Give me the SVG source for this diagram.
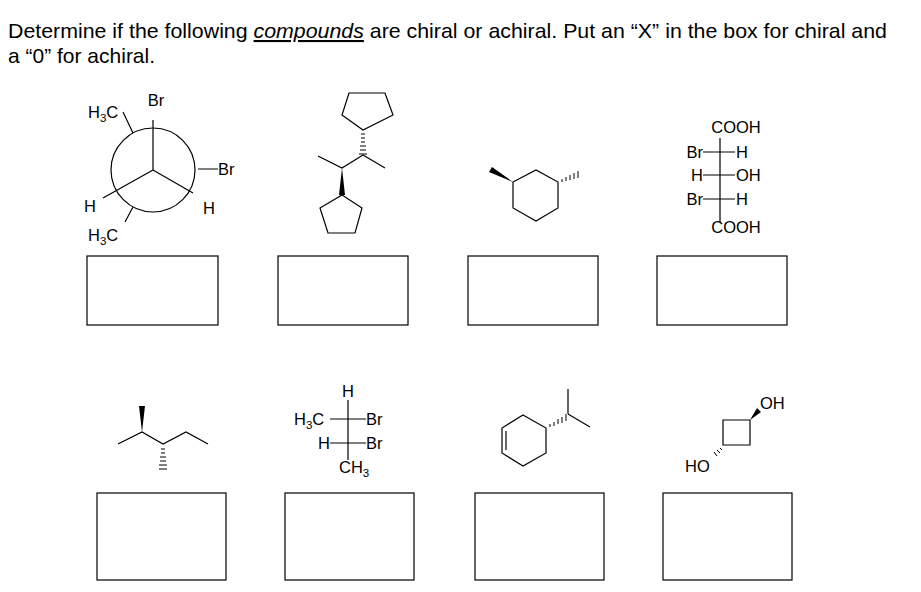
<svg xmlns="http://www.w3.org/2000/svg" width="921" height="592" viewBox="0 0 921 592">
<style>
text{font-family:"Liberation Sans",Arial,sans-serif;fill:#000}
.t{font-size:21px}
.l{font-size:16.5px}
.e{text-anchor:end}
.c{text-anchor:middle}
.s{font-size:11.5px}
.b{fill:none;stroke:#000;stroke-width:1.2}
.box{fill:#fff;stroke:#000;stroke-width:1.2}
.h{stroke:#000;stroke-width:1}
</style>
<rect width="921" height="592" fill="#fff"/>
<text class="t" x="8" y="38" textLength="879" lengthAdjust="spacingAndGlyphs">Determine if the following <tspan font-style="italic" text-decoration="underline">compounds</tspan> are chiral or achiral. Put an “X” in the box for chiral and</text>
<text class="t" x="8" y="63">a “0” for achiral.</text>
<g id="newman">
<circle class="b" cx="153" cy="170" r="42"/>
<path class="b" d="M153,170V120M153,170L103,198M153,170L193,193M123,112L133,133M198,169H218M133,207L125,222"/>
<text class="l c" x="156" y="106">Br</text>
<text class="l" x="88" y="118">H<tspan class="s" dy="4">3</tspan><tspan dy="-4">C</tspan></text>
<text class="l" x="218" y="175">Br</text>
<text class="l" x="84" y="212">H</text>
<text class="l" x="203" y="214">H</text>
<text class="l" x="88" y="241">H<tspan class="s" dy="4">3</tspan><tspan dy="-4">C</tspan></text>
</g>
<g id="dicyclopentyl">
<path class="b" d="M349,93L385,93L393,115L363,130L342,115Z"/>
<path class="b" d="M363,155L385,168M363,155L342,168L318,156"/>
<path class="h" d="M361,134h4M361,138h4M361,142h4M360,146h6M360,150h6M359,154h8"/>
<polygon points="342,168 339,195 345,195"/>
<path class="b" d="M342,195L362,208L355,233L328,233L320,208Z"/>
</g>
<g id="dimethylcyclohexane">
<path class="b" d="M513,182L536,170L558,182L558,208L536,221L513,208Z"/>
<polygon points="513,182 492,167 489,172"/>
<path class="h" d="M562,179v3M566,177v4M570,175v5M574,173v6M578,171v7"/>
</g>
<g id="fischer1">
<path class="b" d="M720,138V222M703,152H735M703,175H735M703,199H735"/>
<text class="l c" x="736" y="133">COOH</text>
<text class="l e" x="703" y="158">Br</text>
<text class="l" x="736" y="158">H</text>
<text class="l e" x="703" y="181">H</text>
<text class="l" x="736" y="181">OH</text>
<text class="l e" x="703" y="205">Br</text>
<text class="l" x="736" y="205">H</text>
<text class="l c" x="736" y="233">COOH</text>
</g>
<g id="boxes">
<rect class="box" x="87" y="256" width="131" height="69"/>
<rect class="box" x="278" y="256" width="130" height="69"/>
<rect class="box" x="468" y="256" width="130" height="69"/>
<rect class="box" x="657" y="256" width="130" height="69"/>
<rect class="box" x="97" y="493" width="129" height="87"/>
<rect class="box" x="285" y="493" width="129" height="87"/>
<rect class="box" x="475" y="493" width="129" height="87"/>
<rect class="box" x="663" y="493" width="129" height="87"/>
</g>
<g id="dimethylpentane">
<path class="b" d="M118,444L142,432L163,444L186,432L208,444"/>
<polygon points="142,432 139,406 145,406"/>
<path class="h" d="M161,449h4M161,453h4M160,457h6M160,461h6M159,465h8M159,469h8"/>
</g>
<g id="fischer2">
<path class="b" d="M348,400V460M330,419H366M330,443H366"/>
<text class="l c" x="348" y="397">H</text>
<text class="l" x="294" y="425">H<tspan class="s" dy="4">3</tspan><tspan dy="-4">C</tspan></text>
<text class="l" x="366" y="425">Br</text>
<text class="l e" x="330" y="449">H</text>
<text class="l" x="366" y="449">Br</text>
<text class="l" x="339" y="473">CH<tspan class="s" dy="4">3</tspan></text>
</g>
<g id="cyclohexene">
<path class="b" d="M523,415L546,428L546,453L523,466L502,453L502,428Z"/>
<path class="b" d="M506,431V450"/>
<path class="h" d="M550,424v3M554,422v4M558,419v5M562,417v6M566,414v7"/>
<path class="b" d="M568,414V389M568,414L590,427"/>
</g>
<g id="cyclobutanediol">
<path class="b" d="M723,420H750V445H723Z"/>
<polygon points="750,420 757,408 761,412"/>
<path class="h" d="M720,448l2,2M717,450l3,3M714,452l3,4"/>
<text class="l" x="760" y="409">OH</text>
<text class="l" x="685" y="472">HO</text>
</g>
</svg>
